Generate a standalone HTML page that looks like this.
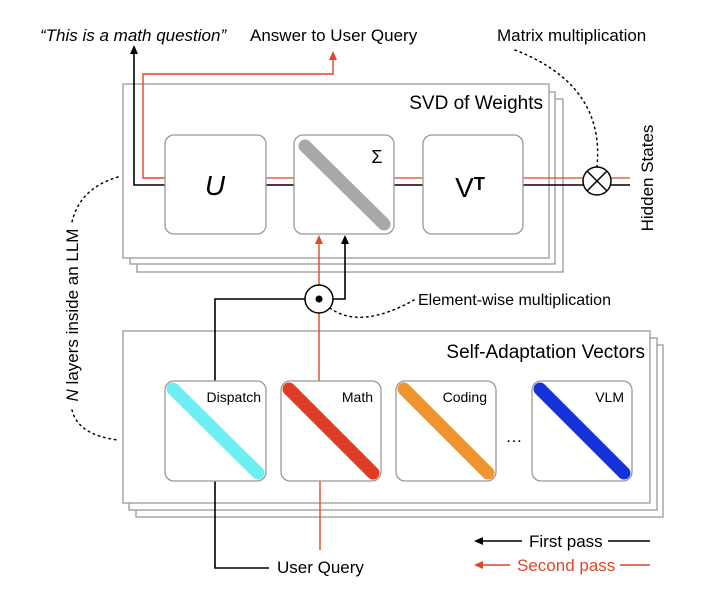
<!DOCTYPE html>
<html><head><style>body{margin:0;background:#fff}svg{display:block}text{font-family:"Liberation Sans",sans-serif}</style></head>
<body>
<svg width="720" height="590" viewBox="0 0 720 590" xmlns="http://www.w3.org/2000/svg">
<defs>
<marker id="ab" markerWidth="9" markerHeight="8" refX="4" refY="4" orient="auto" markerUnits="userSpaceOnUse"><path d="M0,0 L9,4 L0,8z" fill="#000"/></marker>
<marker id="ar" markerWidth="9" markerHeight="8" refX="4" refY="4" orient="auto" markerUnits="userSpaceOnUse"><path d="M0,0 L9,4 L0,8z" fill="#e0452b"/></marker>
</defs>
<g fill="#fff" stroke="#999" stroke-width="1.3">
<rect x="137" y="99" width="426" height="173"/><rect x="130" y="92" width="425" height="172"/><rect x="123" y="84" width="426" height="174"/>
<rect x="136" y="345" width="527" height="172"/><rect x="129" y="338" width="528" height="172"/><rect x="123" y="331" width="527" height="172"/>
</g>
<text x="543" y="109" font-size="19" text-anchor="end">SVD of Weights</text>
<text x="645" y="358" font-size="19" text-anchor="end">Self-Adaptation Vectors</text>
<path d="M165,185 H134 V50" stroke="#000" stroke-width="1.6" fill="none" marker-end="url(#ab)"/>
<path d="M165,178 H143 V74 H333 V56" stroke="#e0452b" stroke-width="1.4" fill="none" marker-end="url(#ar)"/>
<path d="M266,185 H294 M394,185 H423 M523,185 H630" stroke="#000" stroke-width="1.6"/>
<path d="M266,178 H294 M394,178 H423 M523,178 H630" stroke="#e0452b" stroke-width="1.2"/>
<g fill="#fff" stroke="#999" stroke-width="1.3">
<rect x="165" y="135" width="101" height="99" rx="9"/><rect x="294" y="135" width="100" height="99" rx="9"/><rect x="423" y="135" width="100" height="99" rx="9"/>
</g>
<line x1="305" y1="146" x2="384" y2="224" stroke="#a8a8a8" stroke-width="13" stroke-linecap="round"/>
<text x="215" y="195" font-size="28" font-style="italic" font-family="Liberation Serif" text-anchor="middle">U</text>
<text x="377" y="163" font-size="18" font-family="Liberation Serif" text-anchor="middle">Σ</text>
<text x="470" y="197" font-size="28" font-family="Liberation Serif" text-anchor="middle">V<tspan font-family="Liberation Sans" font-size="18" dy="-7" font-weight="bold">T</tspan></text>
<circle cx="597" cy="181" r="14" fill="#fff" stroke="#000" stroke-width="1.5"/>
<path d="M587,171 L607,191 M607,171 L587,191" stroke="#000" stroke-width="1.5"/>
<text transform="translate(653,178) rotate(-90)" font-size="17" text-anchor="middle">Hidden States</text>
<path d="M319,285 V240" stroke="#e0452b" stroke-width="1.4" marker-end="url(#ar)"/>
<path d="M333,299 H345 V240" stroke="#000" stroke-width="1.6" fill="none" marker-end="url(#ab)"/>
<path d="M305,299 H215 V381" stroke="#000" stroke-width="1.6" fill="none"/>
<path d="M319,313 V381" stroke="#e0452b" stroke-width="1.4"/>
<circle cx="319" cy="299" r="14" fill="#fff" stroke="#000" stroke-width="1.5"/>
<circle cx="319" cy="299" r="3.5" fill="#000"/>
<path d="M215,481 V568 H269" stroke="#000" stroke-width="1.6" fill="none"/>
<path d="M320,481 V550" stroke="#e0452b" stroke-width="1.4"/>
<g fill="#fff" stroke="#999" stroke-width="1.3">
<rect x="165" y="381" width="101" height="100" rx="9"/><rect x="281" y="381" width="100" height="100" rx="9"/><rect x="396" y="381" width="100" height="100" rx="9"/><rect x="532" y="381" width="100" height="100" rx="9"/>
</g>
<g stroke-width="13" stroke-linecap="round">
<line x1="173" y1="389" x2="258" y2="473" stroke="#6ff0f0"/>
<line x1="289" y1="389" x2="373" y2="473" stroke="#e03c25"/>
<line x1="404" y1="389" x2="488" y2="473" stroke="#ef9632"/>
<line x1="540" y1="389" x2="624" y2="473" stroke="#1533d8"/>
</g>
<g font-size="14" text-anchor="end"><text x="261" y="402">Dispatch</text><text x="373" y="402">Math</text><text x="487" y="402">Coding</text><text x="624" y="402">VLM</text></g>
<text x="514" y="442" font-size="17" text-anchor="middle">…</text>
<text x="277" y="573" font-size="17">User Query</text>
<path d="M522,541 H479" stroke="#000" stroke-width="1.6" marker-end="url(#ab)"/>
<text x="529" y="547" font-size="17">First pass</text>
<path d="M608,541 H650" stroke="#000" stroke-width="1.6"/>
<path d="M510,565 H479" stroke="#e0452b" stroke-width="1.4" marker-end="url(#ar)"/>
<text x="517" y="571" font-size="17" fill="#e0452b">Second pass</text>
<path d="M620,565 H650" stroke="#e0452b" stroke-width="1.4"/>
<text x="40" y="41" font-size="17" font-style="italic">“This is a math question”</text>
<text x="250" y="41" font-size="17">Answer to User Query</text>
<text x="497" y="41" font-size="17">Matrix multiplication</text>
<text x="418" y="305" font-size="16">Element-wise multiplication</text>
<text transform="translate(78,315) rotate(-90)" font-size="17" text-anchor="middle"><tspan font-style="italic">N</tspan> layers inside an LLM</text>
<g stroke="#000" stroke-width="1.5" stroke-dasharray="1.5 4" fill="none" stroke-linecap="round">
<path d="M118,177 Q80,188 72,222"/>
<path d="M72,410 Q78,435 118,440"/>
<path d="M515,50 Q605,85 597,166"/>
<path d="M330,308 Q360,330 414,300"/>
</g>
</svg>
</body></html>
